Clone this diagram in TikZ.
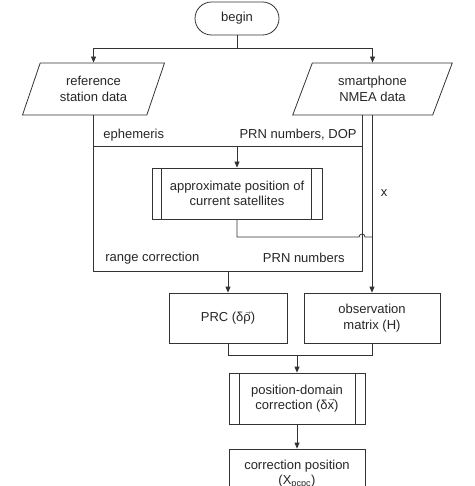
\documentclass[tikz,border=0pt]{standalone}
\usepackage{fontspec}
\setmainfont{Liberation Sans}
\usetikzlibrary{shapes.geometric,shapes.misc,arrows.meta}
\begin{document}
\begin{tikzpicture}[x=1pt,y=-1pt,
  line width=0.8pt, draw=black!80,
  every node/.style={font=\fontsize{13}{15.5}\selectfont, text=black!85, align=center, inner sep=0pt},
  term/.style={draw, rounded rectangle, minimum width=84pt, minimum height=33pt},
  io/.style={draw, trapezium, trapezium left angle=66, trapezium right angle=114, trapezium stretches=true, minimum height=52pt},
  proc/.style={draw, rectangle, minimum height=50pt},
  arr/.style={-{Triangle[length=6pt,width=5pt]}},
  lbl/.style={inner sep=0pt}
]
\useasboundingbox (0,0) rectangle (474,486);
\begin{scope}
\clip (0,0) rectangle (474,486);
% nodes
\node[term] (begin) at (237,18.5) {begin};
\node[io, minimum width=143pt] (ref) at (93.5,89) {reference\\station data};
\node[io, minimum width=161pt] (phone) at (372.5,89) {smartphone\\NMEA data};
\node[proc, minimum width=170pt, minimum height=51pt] (approx) at (237,193.5) {approximate position of\\current satellites};
\draw (approx.north west) ++(10,0) -- ++(0,51);
\draw (approx.north east) ++(-11,0) -- ++(0,51);
\node[proc, minimum width=118pt] (prc) at (228,318) {PRC (δ\(\vec{\hbox{ρ}}\))};
\node[proc, minimum width=136pt] (obs) at (372,318) {observation\\matrix (H)};
\node[proc, minimum width=136pt, minimum height=51pt] (pdc) at (297,398.5) {position-domain\\correction (δ\(\vec{\hbox{x}}\))};
\draw (pdc.north west) ++(11,0) -- ++(0,51);
\draw (pdc.north east) ++(-10,0) -- ++(0,51);
\node[proc, minimum width=136pt] (cpos) at (297,474) {correction position\\(X\textsubscript{pcpc})};

% coordinates
\coordinate (split) at (237,48);
\coordinate (bigTL) at (93,146);
\coordinate (bigTR) at (362,146);
\coordinate (bigBL) at (93,271);
\coordinate (bigBR) at (362,271);
\coordinate (topmid) at (237,146);
\coordinate (botmid) at (228,271);
\coordinate (apxturn) at (237,237);
\coordinate (hopL) at (359,237);
\coordinate (join) at (297,355);

% connectors
\draw (begin.south) -- (split);
\draw[arr] (split) -| (ref.north);
\draw[arr] (split) -| (phone.north);
\draw (ref.south -| bigTL) -- (bigTL);
\draw (phone.south -| bigTR) -- (bigTR);
\draw (bigTL) rectangle (bigBR);
\draw[arr] (topmid) -- (approx.north);
\draw (approx.south) -- (apxturn) -- (hopL) arc[start angle=180, end angle=0, radius=3pt] -- (apxturn -| obs.north);
\draw[arr] (phone.south -| obs.north) -- (obs.north);
\draw[arr] (botmid) -- (prc.north);
\draw (prc.south) -- (prc.south |- join) -- (obs.south |- join) -- (obs.south);
\draw[arr] (join) -- (pdc.north);
\draw[arr] (pdc.south) -- (cpos.north);

% labels
\node[lbl, anchor=west] (l1) at (103,135) {ephemeris};
\node[lbl, anchor=east] (l2) at (357,135) {PRN numbers, DOP};
\node[lbl] (l3) at (384,193) {x};
\node[lbl, anchor=west] (l4) at (105,258) {range correction};
\node[lbl, anchor=east] (l5) at (345,258) {PRN numbers};
\end{scope}
\end{tikzpicture}
\end{document}
